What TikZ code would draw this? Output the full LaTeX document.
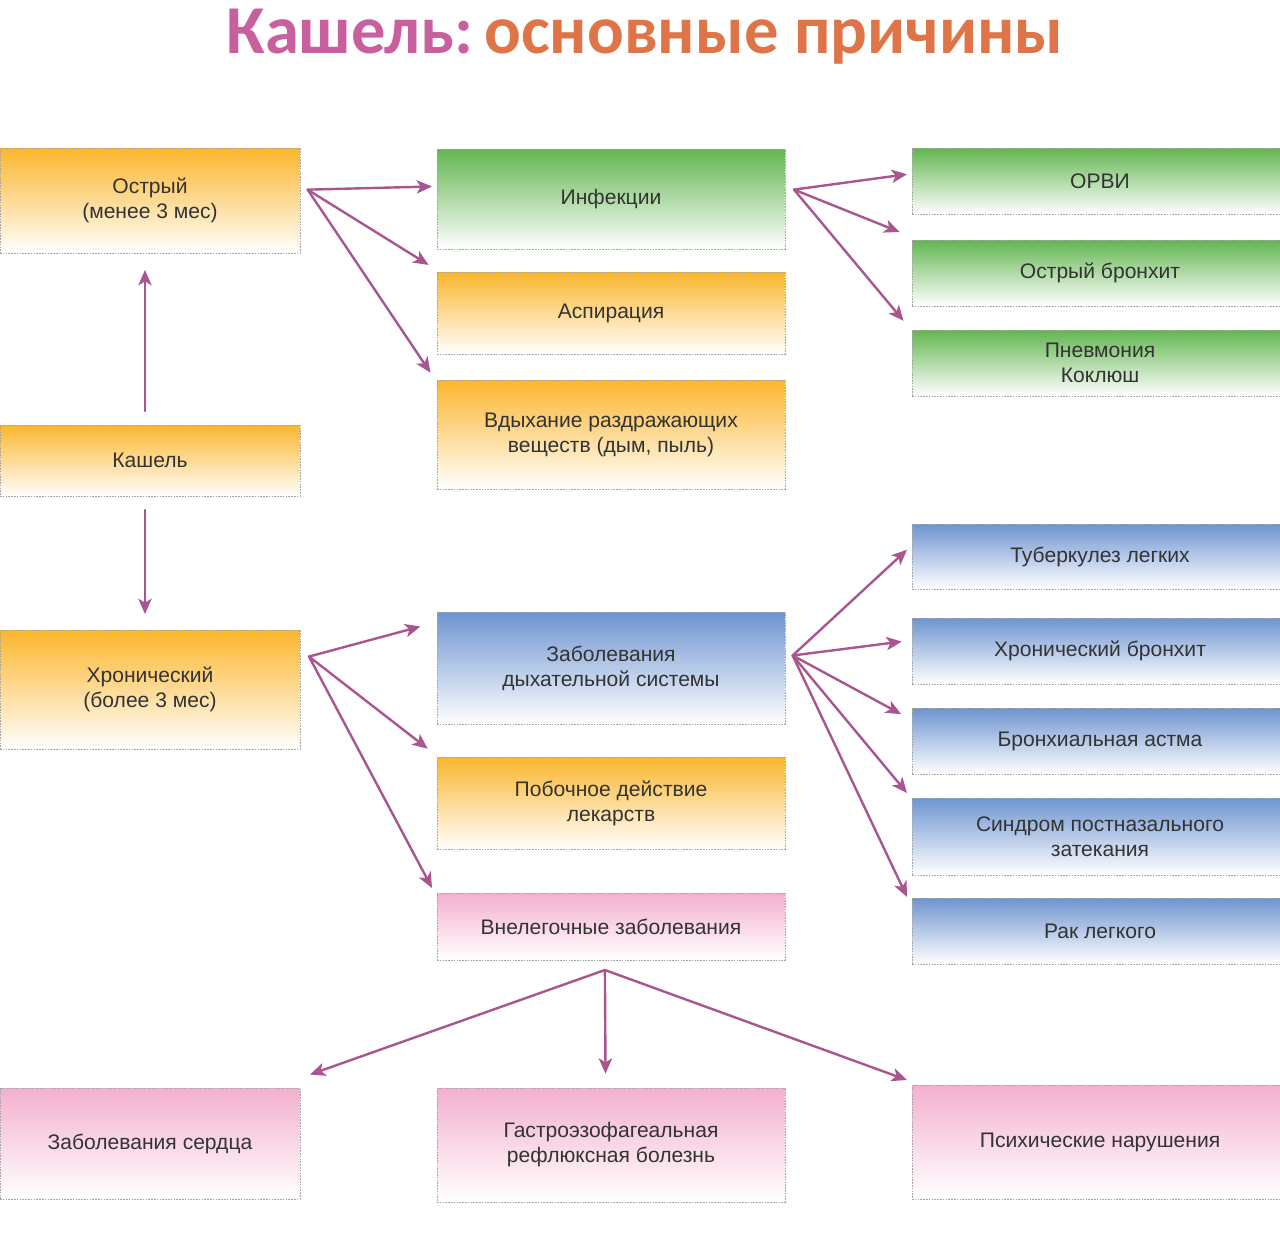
\documentclass[tikz,border=0pt]{standalone}
\usepackage{fontspec}
\setmainfont{Liberation Sans}
\newfontfamily\titlefont{Carlito}
\usepackage{tikz}
\usetikzlibrary{arrows.meta}

\definecolor{orangetop}{HTML}{FBB62C}
\definecolor{greentop}{HTML}{62B650}
\definecolor{bluetop}{HTML}{6E94D0}
\definecolor{pinktop}{HTML}{F3B0CE}
\definecolor{linkcol}{HTML}{A9558F}
\definecolor{titlepink}{HTML}{C9609E}
\definecolor{titleorange}{HTML}{DE7448}

\tikzset{
	cell/.style={draw=black!35, line width=0.5pt, dash pattern=on 1.2pt off 0.9pt,
		outer sep=3.75pt, inner sep=0pt, align=center, text=black!80,
		font=\fontsize{15.8}{18.75}\selectfont},
	leftcell/.style={cell, minimum width=225pt},
	midcell/.style={cell, minimum width=261pt},
	rightcell/.style={cell, minimum width=282pt},
	orangecell/.style={top color=orangetop, bottom color=white},
	greencell/.style={top color=greentop, bottom color=white},
	bluecell/.style={top color=bluetop, bottom color=white},
	pinkcell/.style={top color=pinktop, bottom color=white},
	link/.style={draw=linkcol, line width=1.8pt, line cap=round, -{Stealth[length=11.5pt,width=10pt,inset=3pt]}}
}

\begin{document}
\begin{tikzpicture}[x=0.75pt,y=-0.75pt]
	\useasboundingbox (0,0) rectangle (1280,1235);
	\node[font=\titlefont\bfseries\fontsize{51.4}{55}\selectfont] (title) at (645,37) {\textcolor{titlepink}{Кашель:}\kern0.16em\textcolor{titleorange}{основные причины}};

	\node[leftcell, orangecell, minimum height=78.75pt] (ostry) at (150,200.5) {Острый\\(менее 3 мес)};
	\node[leftcell, orangecell, minimum height=53.25pt] (kashel) at (150,460.5) {Кашель};
	\node[leftcell, orangecell, minimum height=89.25pt] (hron) at (150,689.5) {Хронический\\(более 3 мес)};
	\node[leftcell, pinkcell, minimum height=83.25pt] (serdce) at (150,1143.5) {Заболевания сердца};

	\node[midcell, greencell, minimum height=75pt] (infekcii) at (611,199) {Инфекции};
	\node[midcell, orangecell, minimum height=61.5pt] (aspiraciya) at (611,313) {Аспирация};
	\node[midcell, orangecell, minimum height=81.75pt] (vdyhanie) at (611,434.5) {Вдыхание раздражающих\\веществ (дым, пыль)};
	\node[midcell, bluecell, minimum height=84pt] (dyhat) at (611,668) {Заболевания\\дыхательной системы};
	\node[midcell, orangecell, minimum height=69pt] (pobochnoe) at (611,803) {Побочное действие\\лекарств};
	\node[midcell, pinkcell, minimum height=50.25pt] (vnelegoch) at (611,926.5) {Внелегочные заболевания};
	\node[midcell, pinkcell, minimum height=85.5pt] (gastro) at (611,1145) {Гастроэзофагеальная\\рефлюксная болезнь};

	\node[rightcell, greencell, minimum height=49.5pt] (orvi) at (1100,181) {ОРВИ};
	\node[rightcell, greencell, minimum height=49.5pt] (bronhit) at (1100,273) {Острый бронхит};
	\node[rightcell, greencell, minimum height=49.5pt] (pnevmoniya) at (1100,363) {Пневмония\\Коклюш};
	\node[rightcell, bluecell, minimum height=48.75pt] (tuberkulez) at (1100,556.5) {Туберкулез легких};
	\node[rightcell, bluecell, minimum height=49.5pt] (hronbronhit) at (1100,651) {Хронический бронхит};
	\node[rightcell, bluecell, minimum height=49.5pt] (astma) at (1100,741) {Бронхиальная астма};
	\node[rightcell, bluecell, minimum height=57.75pt] (sindrom) at (1100,836.5) {Синдром постназального\\затекания};
	\node[rightcell, bluecell, minimum height=49.5pt] (rak) at (1100,931) {Рак легкого};
	\node[rightcell, pinkcell, minimum height=85.5pt] (psih) at (1100,1142) {Психические нарушения};

	\draw[link, shorten <=6.75pt, shorten >=9pt] ([xshift=-3.75pt]kashel.north) -- ([xshift=-3.75pt]ostry.south);
	\draw[link, shorten <=6.75pt, shorten >=8.25pt] ([xshift=-3.75pt]kashel.south) -- ([xshift=-3.75pt]hron.north);

	\draw[link] ([xshift=2pt]ostry.4) -- (infekcii.176);
	\draw[link, shorten >=3pt] ([xshift=2pt]ostry.4) -- (aspiraciya.north west);
	\draw[link, shorten >=2pt] ([xshift=2pt]ostry.4) -- (vdyhanie.north west);

	\draw[link] ([xshift=3pt]infekcii.3.5) -- (orvi.178);
	\draw[link, shorten >=6pt] ([xshift=3pt]infekcii.3.5) -- (bronhit.north west);
	\draw[link, shorten >=4pt] ([xshift=3pt]infekcii.3.5) -- (pnevmoniya.north west);

	\draw[link, shorten >=9pt] ([xshift=3pt]hron.12.5) -- (dyhat.166);
	\draw[link, shorten >=4pt] ([xshift=3pt]hron.12.5) -- (pobochnoe.north west);
	\draw[link] ([xshift=3pt]hron.12.5) -- (vnelegoch.north west);

	\draw[link] ([xshift=2pt]dyhat.4) -- (tuberkulez.178);
	\draw[link, shorten >=4pt] ([xshift=2pt]dyhat.4) -- (hronbronhit.177);
	\draw[link, shorten >=5pt] ([xshift=2pt]dyhat.4) -- (astma.173);
	\draw[link] ([xshift=2pt]dyhat.4) -- (sindrom.north west);
	\draw[link] ([xshift=2pt]dyhat.4) -- (rak.170);

	\draw[link, shorten >=4pt] ([yshift=-3.75pt]vnelegoch.261) -- ([yshift=5pt]serdce.north east);
	\draw[link, shorten >=7pt] ([yshift=-3.75pt]vnelegoch.261) -- (gastro.95.5);
	\draw[link] ([yshift=-3.75pt]vnelegoch.261) -- (psih.north west);
\end{tikzpicture}
\end{document}
